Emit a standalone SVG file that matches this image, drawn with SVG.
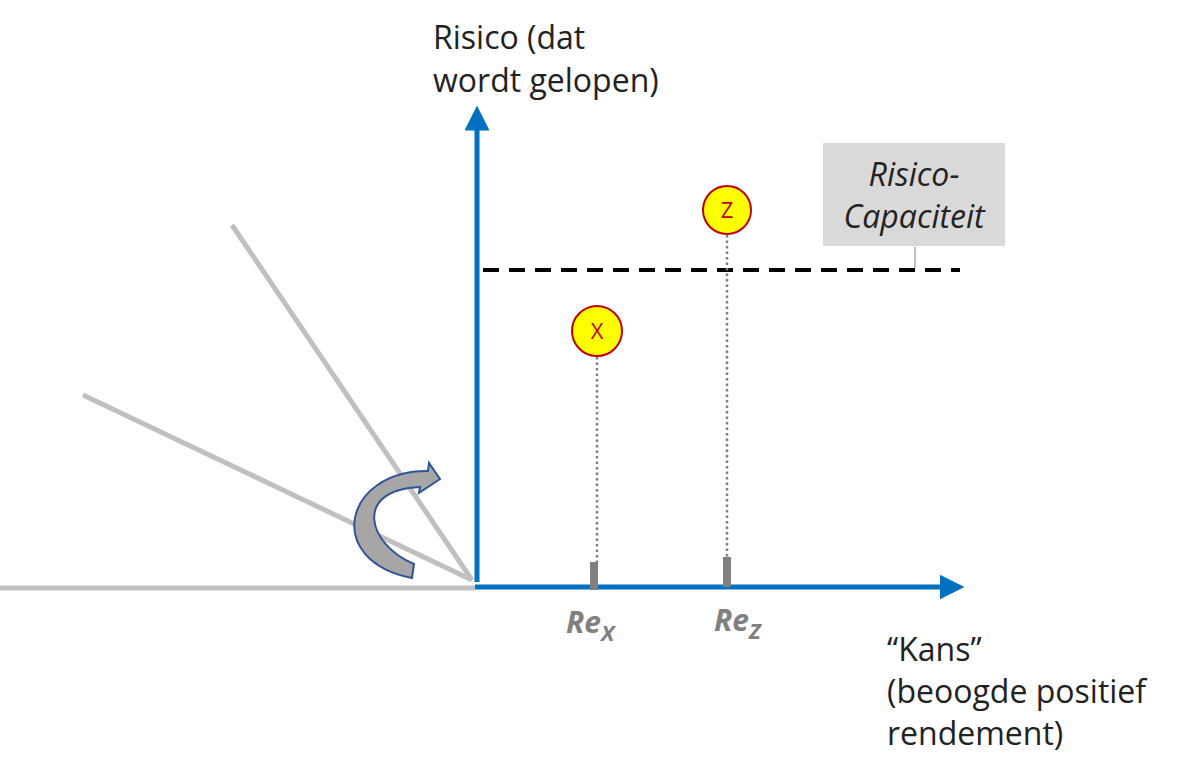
<svg xmlns="http://www.w3.org/2000/svg" width="1187" height="764" viewBox="0 0 1187 764">
<style>
.t{font-family:"Open Sans","Liberation Sans",sans-serif;font-size:32px;fill:#222}
.g{stroke:#c0c0c0;stroke-width:5;fill:none}
.b{stroke:#0070c0;stroke-width:5;fill:none}
.d{stroke:#808080;stroke-width:2.5;stroke-dasharray:2.5 3;fill:none}
.c{fill:#ffff00;stroke:#c00000;stroke-width:2}
.ct{font-family:"Open Sans","Liberation Sans",sans-serif;font-size:22px;fill:#c00000;text-anchor:middle}
.re{font-family:"Open Sans","Liberation Sans",sans-serif;font-size:30px;font-weight:bold;font-style:italic;fill:#808080}
</style>
<defs>
<marker id="ah" markerWidth="5" markerHeight="5" refX="2.5" refY="2.5" orient="auto" markerUnits="strokeWidth"><path d="M0,0 L5,2.5 L0,5 Z" fill="#0070c0"/></marker>
</defs>
<rect width="1187" height="764" fill="#fff"/>
<g id="connectors">
<line class="g" x1="0" y1="588" x2="475" y2="588"/>
<line class="g" x1="232" y1="225" x2="472" y2="580"/>
<line class="g" x1="83" y1="395" x2="472" y2="580"/>
<line class="b" x1="477" y1="582" x2="477" y2="118" marker-end="url(#ah)"/>
<line class="b" x1="475" y1="587" x2="952" y2="587" marker-end="url(#ah)"/>
<line x1="483" y1="270" x2="960" y2="270" stroke="#000" stroke-width="4" stroke-dasharray="16 10"/>
<line x1="915" y1="247" x2="915" y2="268" stroke="#808080" stroke-width="1"/>
<line class="d" x1="597" y1="357" x2="597" y2="562"/>
<line class="d" x1="727" y1="235" x2="727" y2="557"/>
<rect x="590" y="562" width="8" height="28" fill="#808080"/>
<rect x="723" y="557" width="8" height="30" fill="#808080"/>
</g>
<g id="curved-arrow">
<path d="M414,564 C368,545 352,490 420,487 L419,493 L440,479 L429,463 L428,471 C345,470 322,560 412,578 Z" fill="#a6a6a6" stroke="#2f5597" stroke-width="2"/>
</g>
<g id="y-label"><text class="t" x="433" y="49">Risico (dat</text><text class="t" x="433" y="92">wordt gelopen)</text></g>
<g id="x-label"><text class="t" x="887" y="661">“Kans”</text><text class="t" x="887" y="703">(beoogde positief</text><text class="t" x="887" y="745">rendement)</text></g>
<g id="capacity"><rect x="823" y="143" width="182" height="103" fill="#d9d9d9"/>
<text class="t" x="914" y="186" text-anchor="middle" font-style="italic">Risico-</text>
<text class="t" x="914" y="228" text-anchor="middle" font-style="italic">Capaciteit</text></g>
<g id="node-x"><circle class="c" cx="597" cy="331" r="25"/><text class="ct" x="597" y="339">X</text></g>
<g id="node-z"><circle class="c" cx="727" cy="210" r="24"/><text class="ct" x="727" y="218">Z</text></g>
<g id="re-x"><text class="re" x="566" y="633">Re<tspan font-size="22" dy="8">X</tspan></text></g>
<g id="re-z"><text class="re" x="714" y="631">Re<tspan font-size="22" dy="8">Z</tspan></text></g>
</svg>
